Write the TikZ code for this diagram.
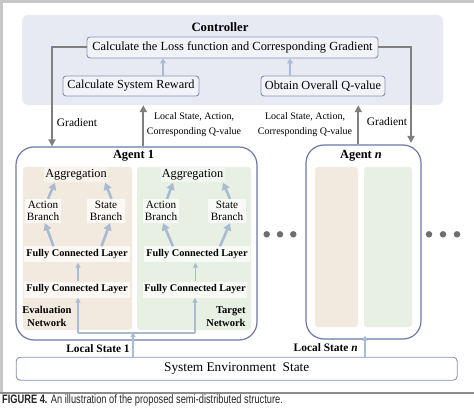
\documentclass[tikz,border=0pt]{standalone}
\usepackage{fontspec}
\setmainfont{Liberation Serif}
\newfontfamily\capfont[FakeStretch=0.76]{Liberation Sans}
\usetikzlibrary{arrows.meta,calc}
\definecolor{ctrlfill}{HTML}{E7E9F3}
\definecolor{boxline}{HTML}{8790B5}
\definecolor{boxfill}{HTML}{F2F3F9}
\definecolor{agentline}{HTML}{6D78A6}
\definecolor{evalfill}{HTML}{F3EADF}
\definecolor{targfill}{HTML}{E8F0E4}
\definecolor{arrblue}{HTML}{A9BAD3}
\definecolor{arrgray}{HTML}{7F7F7F}
\definecolor{dotgray}{HTML}{6E6E6E}
\tikzset{
  cbox/.style={draw=boxline, fill=boxfill, line width=0.9pt, rounded corners=3pt, inner sep=0pt},
  agentbox/.style={draw=agentline, line width=1.2pt, rounded corners=18pt, fill=white, inner sep=0pt},
  panel/.style={rounded corners=3pt, inner sep=0pt},
  inbox/.style={fill=white, fill opacity=0.7, text opacity=1, inner sep=0pt, align=center},
  gradarrow/.style={draw=arrgray, line width=2pt, -{Triangle[length=7pt,width=7pt]}},
  uparrow/.style={draw=arrgray, line width=2pt, -{Triangle[length=7pt,width=7pt]}},
  cup/.style={draw=arrblue, line width=2pt, -{Triangle[length=5pt,width=6pt]}},
  fatarrow/.style={draw=arrblue, line width=2.6pt, -{Triangle[length=7pt,width=8pt]}},
  thinarrow/.style={draw=arrblue, line width=1.4pt, -{Triangle[length=5pt,width=5pt]}},
  thinline/.style={draw=arrblue, line width=1.4pt},
  dotnode/.style={circle, fill=dotgray, minimum size=6.5pt, inner sep=0pt},
  lbl/.style={inner sep=0pt, align=center},
}
\begin{document}
\begin{tikzpicture}[x=1pt,y=-1pt]
\useasboundingbox (0,0) rectangle (474,414);
\fill[white] (0,0) rectangle (474,414);
\fill[black!22] (0,0) rectangle (474,3);
\fill[black!22] (0,0) rectangle (3,393);
\draw[black!45, line width=1.4pt] (0,393) -- (474,393);

% Controller
\node[fill=ctrlfill, rounded corners=6pt, minimum width=421pt, minimum height=90pt, inner sep=0pt] (ctrl) at (232.5,60) {};
\node[lbl, font=\bfseries\fontsize{12.7}{14}\selectfont] (ctitle) at (220,27) {Controller};
\node[cbox, minimum width=291pt, minimum height=21pt, font=\fontsize{12.4}{14}\selectfont] (loss) at (232.5,47.5) {Calculate the Loss function and Corresponding Gradient};
\node[cbox, minimum width=136pt, minimum height=20pt, font=\fontsize{12.3}{14}\selectfont] (reward) at (131,86) {Calculate System Reward};
\node[cbox, minimum width=124pt, minimum height=20pt, font=\fontsize{12.3}{14}\selectfont] (qval) at (323,86) {Obtain Overall Q-value};
\coordinate (c1) at (163,0);
\coordinate (c2) at (290,0);
\draw[cup] (reward.north -| c1) -- (c1 |- loss.south);
\draw[cup] (qval.north -| c2) -- (c2 |- loss.south);

% Agent boxes
\node[agentbox, minimum width=241pt, minimum height=193pt] (ag1) at (136.5,243.5) {};
\node[agentbox, minimum width=115pt, minimum height=194pt] (agn) at (363.5,242) {};
\node[lbl, font=\bfseries\fontsize{12.4}{14}\selectfont] (ag1t) at (133.5,156) {Agent 1};
\node[lbl, font=\bfseries\fontsize{12.4}{14}\selectfont] (agnt) at (361,156) {Agent \textit{n}};

% panels
\node[panel, fill=evalfill, minimum width=109pt, minimum height=163pt] (pe) at (77.5,248.5) {};
\node[panel, fill=targfill, minimum width=114pt, minimum height=163pt] (pt) at (194,248.5) {};
\node[panel, fill=evalfill, minimum width=43pt, minimum height=160pt] (pen) at (336.5,247) {};
\node[panel, fill=targfill, minimum width=48pt, minimum height=160pt] (ptn) at (388,247) {};

% evaluation network contents
\node[inbox, fill opacity=0.45, font=\fontsize{12.3}{14}\selectfont, minimum width=64pt, minimum height=15pt] (agge) at (76,175) {Aggregation};
\node[inbox, font=\fontsize{11.2}{11.5}\selectfont, minimum width=36pt, minimum height=24pt] (acte) at (43,211) {Action\\Branch};
\node[inbox, font=\fontsize{11.2}{11.5}\selectfont, minimum width=38pt, minimum height=24pt] (ste) at (106,211) {State\\Branch};
\node[inbox, font=\bfseries\fontsize{10.3}{12}\selectfont, minimum width=106pt, minimum height=16pt] (fc1e) at (77,254.5) {Fully Connected Layer};
\node[inbox, font=\bfseries\fontsize{10.3}{12}\selectfont, minimum width=106pt, minimum height=16pt] (fc2e) at (77,289.5) {Fully Connected Layer};
\node[lbl, font=\bfseries\fontsize{10.5}{12.5}\selectfont] (evn) at (47,316.5) {Evaluation\\Network};

% target network contents
\node[inbox, fill opacity=0.45, font=\fontsize{12.3}{14}\selectfont, minimum width=64pt, minimum height=15pt] (aggt) at (192.5,175) {Aggregation};
\node[inbox, font=\fontsize{11.2}{11.5}\selectfont, minimum width=36pt, minimum height=24pt] (actt) at (161,211) {Action\\Branch};
\node[inbox, font=\fontsize{11.2}{11.5}\selectfont, minimum width=38pt, minimum height=24pt] (stt) at (227,211) {State\\Branch};
\node[inbox, font=\bfseries\fontsize{10.3}{12}\selectfont, minimum width=106pt, minimum height=16pt] (fc1t) at (197,254.5) {Fully Connected Layer};
\node[inbox, font=\bfseries\fontsize{10.3}{12}\selectfont, minimum width=104pt, minimum height=16pt] (fc2t) at (195,289.5) {Fully Connected Layer};
\node[lbl, font=\bfseries\fontsize{10.5}{12.5}\selectfont, align=right] (tgn) at (226,316.5) {Target\\Network};

% inner arrows evaluation
\draw[fatarrow] ([xshift=-23.5pt]fc1e.north) -- ([xshift=2pt]acte.south);
\draw[fatarrow] ([xshift=24.5pt]fc1e.north) -- ([xshift=4pt]ste.south);
\draw[fatarrow] ([xshift=5pt]acte.north) -- ([xshift=-21pt]agge.south);
\draw[fatarrow] ([xshift=5.5pt]ste.north) -- ([xshift=29pt]agge.south);
\draw[thinarrow] ([xshift=1pt]fc2e.north) -- ([xshift=1pt]fc1e.south);
% inner arrows target
\draw[fatarrow] ([xshift=-24pt]fc1t.north) -- ([xshift=2pt]actt.south);
\draw[fatarrow] ([xshift=23pt]fc1t.north) -- ([xshift=3pt]stt.south);
\draw[fatarrow] ([xshift=6pt]actt.north) -- ([xshift=-19.5pt]aggt.south);
\draw[fatarrow] ([xshift=3pt]stt.north) -- ([xshift=30.5pt]aggt.south);
\draw[thinarrow] ([xshift=0.5pt]fc2t.north) -- ([xshift=-1.5pt]fc1t.south);

% gradient arrows
\coordinate (gL) at (52,0);
\coordinate (gR) at (411,0);
\draw[gradarrow] (loss.west) -| (gL |- ag1.north);
\draw[gradarrow] (loss.east) -| ([yshift=1.5pt]gR |- agn.north);
\node[lbl, font=\fontsize{11.5}{13}\selectfont] (gradl) at (77,123) {Gradient};
\node[lbl, font=\fontsize{11.5}{13}\selectfont] (gradr) at (387,122) {Gradient};

% upward arrows to controller
\coordinate (uL) at (143.3,0);
\coordinate (uR) at (358.3,0);
\draw[uparrow] (uL |- ag1.north) -- (uL |- ctrl.south);
\draw[uparrow] (uR |- agn.north) -- (uR |- ctrl.south);
\node[lbl, font=\fontsize{10}{15}\selectfont] (lsl) at (194,124.5) {Local State, Action,\\Corresponding Q-value};
\node[lbl, font=\fontsize{10}{15}\selectfont] (lsr) at (305,124.5) {Local State, Action,\\Corresponding Q-value};

% dots
\node[dotnode] (d1) at (266.7,234.3) {};
\node[dotnode] (d2) at (280,234.3) {};
\node[dotnode] (d3) at (293.3,234.3) {};
\node[dotnode] (d4) at (429,234.3) {};
\node[dotnode] (d5) at (443,234.3) {};
\node[dotnode] (d6) at (457,234.3) {};

% environment
\node[draw=boxline, fill=white, line width=0.9pt, rounded corners=4pt, minimum width=441pt, minimum height=23pt, inner sep=0pt, font=\fontsize{13.3}{15}\selectfont] (env) at (236.7,368.7) {System Environment\ \ State};
\coordinate (j1) at (133,333);
\coordinate (sL) at (78,333);
\coordinate (sR) at (195,333);
\draw[thinarrow] (env.north -| j1) -- ([yshift=1pt]j1);
\draw[thinline] (sL) -- (sR);
\draw[thinarrow] (sL) -- (sL |- fc2e.south);
\draw[thinarrow] (sR) -- (sR |- fc2t.south);
\coordinate (jn) at (365,0);
\draw[thinarrow] (env.north -| jn) -- ([yshift=4pt]jn |- agn.south);
\node[lbl, font=\bfseries\fontsize{11.4}{13}\selectfont] (ls1) at (98,349) {Local State 1};
\node[lbl, font=\bfseries\fontsize{11.4}{13}\selectfont] (lsn) at (325.7,348) {Local State \textit{n}};

% caption
\node[anchor=base west, inner sep=0pt, text=black!85, font=\capfont\fontsize{12.2}{14}\selectfont] (cap) at (2,403) {\textbf{FIGURE 4.} An illustration of the proposed semi-distributed structure.};
\end{tikzpicture}
\end{document}
